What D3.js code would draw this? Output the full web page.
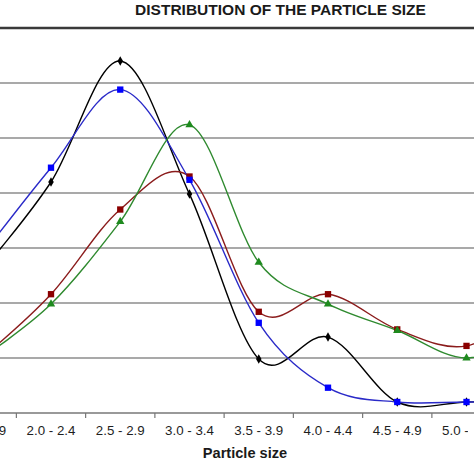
<!DOCTYPE html>
<html>
<head>
<meta charset="utf-8">
<script src="https://cdn.jsdelivr.net/npm/d3@7"></script>
<style>
  html, body { margin: 0; padding: 0; background: #fff; }
  svg { display: block; }
</style>
</head>
<body>
<svg id="chart" width="474" height="474"></svg>
<script>
const title = "DISTRIBUTION OF THE PARTICLE SIZE";
const xTitle = "Particle size";
const categories = ["1.5 - 1.9","2.0 - 2.4","2.5 - 2.9","3.0 - 3.4","3.5 - 3.9","4.0 - 4.4","4.5 - 4.9","5.0 - 5.4","5.5 - 5.9"];
const seriesBlack = [12.9, 21.0, 32.0, 19.9, 4.9, 6.9, 1.0, 1.0, 1.1];
const seriesRed   = [5.0, 10.8, 18.5, 21.5, 9.2, 10.8, 7.6, 6.1, 10.0];
const seriesBlue  = [14.3, 22.3, 29.4, 21.2, 8.2, 2.3, 1.0, 1.0, 1.0];
const seriesGreen = [5.0, 9.9, 17.4, 26.2, 13.7, 9.9, 7.5, 5.0, 7.4];
const gridValues = [5, 10, 15, 20, 25, 30];
const yMax = 35;

const svg = d3.select("#chart");
svg.append("rect").attr("width", 474).attr("height", 474).attr("fill", "#fff");

const defs = svg.append("defs");
defs.append("clipPath").attr("id", "labelClip")
  .append("rect").attr("x", -100).attr("y", -10).attr("width", 568).attr("height", 60);

const step = 69.25;
const x0 = -18.25 - step / 2;
const x = d3.scaleBand().domain(categories).range([x0, x0 + step * categories.length]).padding(0);
const y = d3.scaleLinear().domain([0, yMax]).range([413, 28]);
const cx = c => x(c) + x.bandwidth() / 2;

// gridlines
svg.append("g").selectAll("line").data(gridValues).join("line")
  .attr("x1", 0).attr("x2", 474)
  .attr("y1", d => y(d)).attr("y2", d => y(d))
  .attr("stroke", "#8c8c8c").attr("stroke-width", 1.6);

// top border
svg.append("line").attr("x1", 0).attr("x2", 474)
  .attr("y1", y(yMax)).attr("y2", y(yMax))
  .attr("stroke", "#3a3a3a").attr("stroke-width", 2.4);

// x axis
const axis = d3.axisBottom(x).tickSize(0).tickPadding(13);
const gx = svg.append("g").attr("transform", `translate(0,${y(0)})`)
  .attr("clip-path", "url(#labelClip)").call(axis);
gx.select(".domain").remove();
gx.selectAll("text").attr("font-family", "'Liberation Sans', Arial, sans-serif")
  .attr("font-size", 13.3).attr("fill", "#1e1e1e");
svg.append("line").attr("x1", 0).attr("x2", 474)
  .attr("y1", y(0)).attr("y2", y(0))
  .attr("stroke", "#777").attr("stroke-width", 1.6);
svg.append("g").selectAll("line").data(categories).join("line")
  .attr("x1", d => x(d)).attr("x2", d => x(d))
  .attr("y1", y(0)).attr("y2", y(0) + 5)
  .attr("stroke", "#777").attr("stroke-width", 1.2);

// titles
svg.append("text").attr("x", 280.5).attr("y", 14.8).attr("text-anchor", "middle")
  .attr("font-family", "'Liberation Sans', Arial, sans-serif").attr("font-weight", "bold")
  .attr("font-size", 15.5).attr("fill", "#1a1a1a").text(title);
svg.append("text").attr("x", 245).attr("y", 458).attr("text-anchor", "middle")
  .attr("font-family", "'Liberation Sans', Arial, sans-serif").attr("font-weight", "bold")
  .attr("font-size", 14.6).attr("fill", "#1a1a1a").text(xTitle);

const line = d3.line().x((d, i) => cx(categories[i])).y(d => y(d)).curve(d3.curveCatmullRom.alpha(0));

const series = [
  { vals: seriesBlack, line: "#000000", fill: "#000000", shape: d3.symbolDiamond, size: 26 },
  { vals: seriesRed,   line: "#8b1c1c", fill: "#8b0000", shape: d3.symbolSquare, size: 40 },
  { vals: seriesBlue,  line: "#2a2ac8", fill: "#0000ff", shape: d3.symbolSquare, size: 40 },
  { vals: seriesGreen, line: "#2f8a2f", fill: "#1e8a1e", shape: d3.symbolTriangle, size: 30 }
];

series.forEach(s => {
  svg.append("path").attr("d", line(s.vals)).attr("fill", "none")
    .attr("stroke", s.line).attr("stroke-width", 1.4);
});
series.forEach(s => {
  svg.append("g").selectAll("path").data(s.vals).join("path")
    .attr("d", d3.symbol().type(s.shape).size(s.size))
    .attr("transform", (d, i) => `translate(${cx(categories[i])},${y(d)})`)
    .attr("fill", s.fill);
});
</script>
</body>
</html>
